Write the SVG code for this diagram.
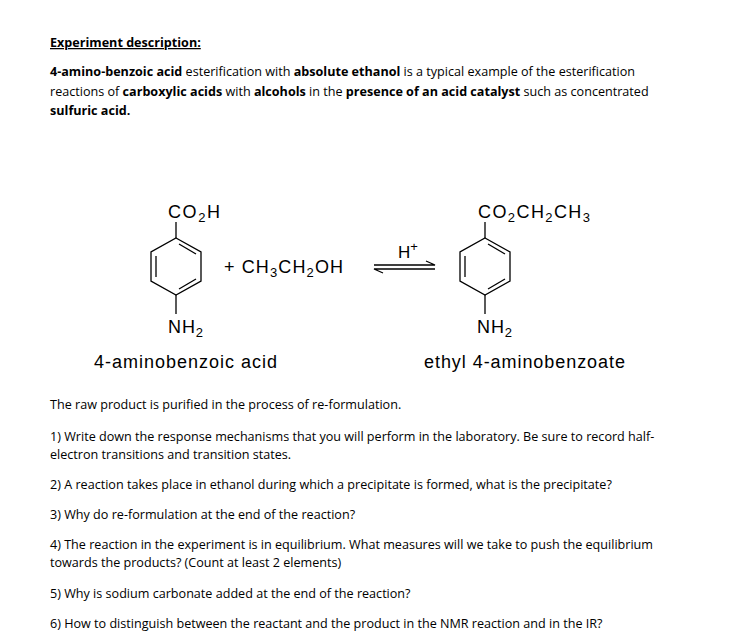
<svg xmlns="http://www.w3.org/2000/svg" width="741" height="641" viewBox="0 0 741 641">
<style>
.t{font-family:"Open Sans","Liberation Sans",sans-serif;font-size:12.6px;fill:#000}
.b{font-weight:bold}
.c{font-family:"Liberation Sans",Arial,sans-serif;font-size:18px;fill:#000}
.s{font-size:13px}
.l{stroke:#000;stroke-width:1.3;fill:none}
</style>
<rect width="741" height="641" fill="#fff"/>
<text class="t b" x="50" y="47" text-decoration="underline">Experiment description:</text>
<text class="t" x="50" y="76"><tspan class="b">4-amino-benzoic acid</tspan> esterification with <tspan class="b">absolute ethanol</tspan> is a typical example of the esterification</text>
<text class="t" x="50" y="96">reactions of <tspan class="b">carboxylic acids</tspan> with <tspan class="b">alcohols</tspan> in the <tspan class="b">presence of an acid catalyst</tspan> such as concentrated</text>
<text class="t b" x="50" y="115">sulfuric acid.</text>
<g id="reactant">
<polygon class="l" points="176,238 201,252 201,281 176,295 151,281 151,252"/>
<line class="l" x1="156" y1="256" x2="156" y2="277"/>
<line class="l" x1="179" y1="244" x2="196" y2="254"/>
<line class="l" x1="179" y1="289" x2="196" y2="279"/>
<line class="l" x1="176" y1="238" x2="176" y2="222"/>
<line class="l" x1="176" y1="295" x2="176" y2="314"/>
<text class="c" x="168" y="218" textLength="52">CO<tspan class="s" dy="4">2</tspan><tspan dy="-4">H</tspan></text>
<text class="c" x="168" y="333" textLength="35">NH<tspan class="s" dy="4">2</tspan></text>
<text class="c" x="94" y="368" textLength="183">4-aminobenzoic acid</text>
</g>
<g id="ethanol"><text class="c" x="224" y="273" textLength="119">+ CH<tspan class="s" dy="4">3</tspan><tspan dy="-4">CH</tspan><tspan class="s" dy="4">2</tspan><tspan dy="-4">OH</tspan></text></g>
<g id="connectors">
<text class="c" x="398" y="258" style="font-size:17px">H<tspan class="s" dy="-7">+</tspan></text>
<polyline class="l" points="374,265 435,265 426,261"/>
<polyline class="l" points="435,269 374,269 383,273"/>
</g>
<g id="product">
<polygon class="l" points="485,238 510,252 510,281 485,295 460,281 460,252"/>
<line class="l" x1="465" y1="256" x2="465" y2="277"/>
<line class="l" x1="488" y1="244" x2="505" y2="254"/>
<line class="l" x1="488" y1="289" x2="505" y2="279"/>
<line class="l" x1="485" y1="238" x2="485" y2="222"/>
<line class="l" x1="485" y1="295" x2="485" y2="314"/>
<text class="c" x="478" y="218" textLength="112">CO<tspan class="s" dy="4">2</tspan><tspan dy="-4">CH</tspan><tspan class="s" dy="4">2</tspan><tspan dy="-4">CH</tspan><tspan class="s" dy="4">3</tspan></text>
<text class="c" x="477" y="333" textLength="35">NH<tspan class="s" dy="4">2</tspan></text>
<text class="c" x="424" y="368" textLength="201">ethyl 4-aminobenzoate</text>
</g>
<text class="t" x="50" y="409">The raw product is purified in the process of re-formulation.</text>
<text class="t" x="50" y="441">1) Write down the response mechanisms that you will perform in the laboratory. Be sure to record half-</text>
<text class="t" x="50" y="459">electron transitions and transition states.</text>
<text class="t" x="50" y="489">2) A reaction takes place in ethanol during which a precipitate is formed, what is the precipitate?</text>
<text class="t" x="50" y="519">3) Why do re-formulation at the end of the reaction?</text>
<text class="t" x="50" y="549">4) The reaction in the experiment is in equilibrium. What measures will we take to push the equilibrium</text>
<text class="t" x="50" y="567">towards the products? (Count at least 2 elements)</text>
<text class="t" x="50" y="598">5) Why is sodium carbonate added at the end of the reaction?</text>
<text class="t" x="50" y="628">6) How to distinguish between the reactant and the product in the NMR reaction and in the IR?</text>
</svg>
